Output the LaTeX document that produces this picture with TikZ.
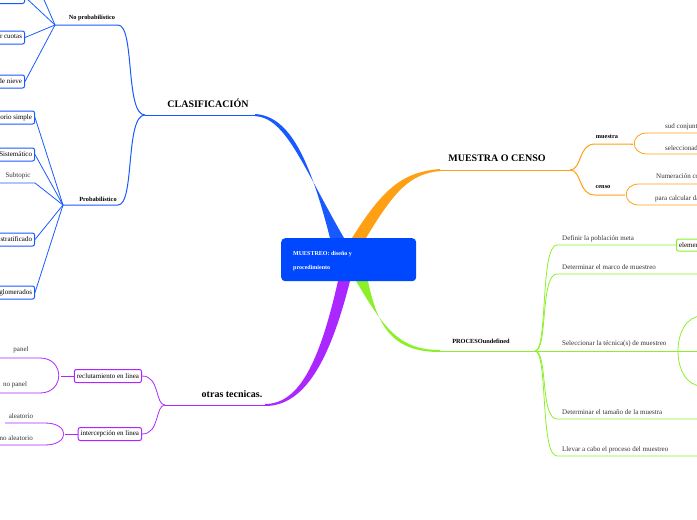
\documentclass[tikz,border=0pt]{standalone}
\usepackage{fontspec}
\setmainfont{Liberation Serif}
\begin{document}
\begin{tikzpicture}[x=1pt,y=-1pt,
  t/.style={font=\fontsize{7}{8}\selectfont, inner sep=0pt, text=black!80},
  bt/.style={font=\bfseries\fontsize{6.3}{7}\selectfont, inner sep=0pt},
  big/.style={font=\bfseries\fontsize{10}{11}\selectfont, inner sep=0pt},
  bx/.style={draw=#1, rounded corners=2pt, line width=1pt, minimum height=13pt, font=\fontsize{7}{8}\selectfont, inner sep=2.5pt},
]
\definecolor{cB}{RGB}{25,90,255}
\definecolor{cO}{RGB}{255,160,20}
\definecolor{cG}{RGB}{140,240,40}
\definecolor{cP}{RGB}{170,40,255}
\definecolor{cC}{RGB}{0,72,255}
\useasboundingbox (0,0) rectangle (697,520);
\clip (0,0) rectangle (697,520);
% ---- blue
\coordinate (bJ) at (145,115);
\coordinate (bE) at (262,115);
\fill[cB] (330,238) .. controls (310,160) and (290,116) .. (255,114) -- (255,116) .. controls (286,118) and (302,165) .. (344,238) -- cycle;
\draw[cB,line width=1pt] (bJ) -- (bE);
\node[big] (clas) at (208,103) {CLASIFICACIÓN};
\coordinate (npJ) at (55,25);
\coordinate (pJ) at (63,205);
\draw[cB,line width=1pt] (bJ) .. controls (125,115) and (135,25) .. (118,25) -- (npJ);
\draw[cB,line width=1pt] (bJ) .. controls (125,115) and (135,205) .. (118,205) -- (pJ);
\node[bt] (np) at (92,18) {No probabilístico};
\node[bt] (p) at (98,199) {Probabilístico};
\node[bx=cB,anchor=east] (b1) at (25,-3) {por conveniencia};
\node[bx=cB,anchor=east] (b2) at (25,37.5) {por cuotas};
\node[bx=cB,anchor=east] (b3) at (25,81.5) {bola de nieve};
\draw[cB,line width=0.8pt] (npJ) -- (b1.east);
\draw[cB,line width=0.8pt] (npJ) -- (42,-5);
\draw[cB,line width=0.8pt] (npJ) -- (b2.east);
\draw[cB,line width=0.8pt] (npJ) -- (b3.east);
\node[bx=cB,anchor=east] (c1) at (35,117.5) {aleatorio simple};
\node[bx=cB,anchor=east] (c2) at (35,154.5) {Sistemático};
\coordinate (c3) at (35,183);
\node[t] (st) at (18,176) {Subtopic};
\node[bx=cB,anchor=east] (c4) at (35,239.5) {Estratificado};
\node[bx=cB,anchor=east] (c5) at (35,292.5) {Conglomerados};
\draw[cB,line width=0.8pt] (0,183) -- (c3) -- (pJ);
\foreach \n in {c1,c2,c4,c5} \draw[cB,line width=0.8pt] (pJ) -- (\n.east);
% ---- orange
\coordinate (oJ) at (570,170);
\fill[cO] (352,238) .. controls (385,185) and (405,172) .. (440,169) -- (440,171) .. controls (410,174) and (395,190) .. (366,238) -- cycle;
\draw[cO,line width=1pt] (440,170) -- (oJ);
\node[big] (mc) at (497,158) {MUESTRA O CENSO};
\coordinate (mJ) at (633,144);
\coordinate (cJ) at (625,195);
\draw[cO,line width=1pt] (oJ) .. controls (582,170) and (578,144) .. (595,144) -- (mJ);
\draw[cO,line width=1pt] (oJ) .. controls (582,170) and (578,195) .. (595,195) -- (cJ);
\node[bt] (mu) at (607,137) {muestra};
\node[bt] (ce) at (603,187) {censo};
\draw[cO,line width=0.8pt] (700,133) -- (647,133) .. controls (630,133) and (630,154) .. (647,154) -- (700,154);
\draw[cO,line width=0.8pt] (mJ) -- (631,144);
\draw[cO,line width=0.8pt] (700,184) -- (639,184) .. controls (622,184) and (622,205) .. (639,205) -- (700,205);
\node[t,anchor=west] (m1) at (665,127) {sud conjunto de la población};
\node[t,anchor=west] (m2) at (665,148) {seleccionada};
\node[t,anchor=west] (c1o) at (656,177) {Numeración completa};
\node[t,anchor=west] (c2o) at (655,199) {para calcular datos};
% ---- green
\coordinate (gJ) at (535,351);
\fill[cG] (356,281) .. controls (385,330) and (400,350) .. (440,350) -- (440,352) .. controls (395,352) and (378,330) .. (368,281) -- cycle;
\draw[cG,line width=1pt] (440,351) -- (gJ);
\node[bt] (pr) at (481,341) {PROCESOundefined};
\foreach \y/\tx in {245/Definir la población meta,274/Determinar el marco de muestreo,419/Determinar el tamaño de la muestra,456/Llevar a cabo el proceso del muestreo}{
  \draw[cG,line width=0.8pt] (gJ) .. controls (548,351) and (540,\y) .. (557,\y) -- (700,\y);
  \node[t,anchor=west] at (562,\y-6.5) {\tx};
}
\draw[cG,line width=0.8pt] (gJ) -- (700,351);
\node[t,anchor=west] (g3) at (562,344) {Seleccionar la técnica(s) de muestreo};
\node[bx=cG,anchor=west,minimum height=12pt,fill=white] (el) at (676,245) {elementos};
\draw[cG,line width=0.8pt] (702,316) .. controls (670,316) and (670,386) .. (702,386);
% ---- purple
\coordinate (pJ2) at (165,405);
\fill[cP] (338,281) .. controls (320,360) and (300,404) .. (265,404) -- (265,406) .. controls (305,406) and (330,360) .. (350,281) -- cycle;
\draw[cP,line width=1pt] (pJ2) -- (265,405);
\node[big] (ot) at (232,394) {otras tecnicas.};
\node[bx=cP,anchor=east] (r) at (142,376) {reclutamiento en linea};
\node[bx=cP,anchor=east] (i) at (142,434) {intercepción en linea};
\draw[cP,line width=0.8pt] (pJ2) .. controls (155,405) and (160,376) .. (r.east);
\draw[cP,line width=0.8pt] (pJ2) .. controls (155,405) and (160,434) .. (i.east);
\draw[cP,line width=0.8pt] (r.west) -- (61,376);
\draw[cP,line width=0.8pt] (0,358) -- (40,358) .. controls (65,358) and (65,393) .. (40,393) -- (0,393);
\draw[cP,line width=0.8pt] (i.west) -- (65,434);
\draw[cP,line width=0.8pt] (5,423) -- (45,423) .. controls (70,423) and (70,445) .. (45,445) -- (0,445);
\node[t] (pa) at (21,350) {panel};
\node[t] (npa) at (15,385) {no panel};
\node[t] (al) at (21,416) {aleatorio};
\node[t,anchor=east] (nal) at (33,438) {no aleatorio};
% ---- center
\node[fill=cC, rounded corners=4pt, minimum width=135pt, minimum height=43pt, anchor=north west] (ctr) at (281,238) {};
\node[font=\bfseries\fontsize{6}{14}\selectfont, text=white, align=left, anchor=north west, inner sep=0pt] (ct) at (293,251) {MUESTREO: diseño y\\procedimiento};
\end{tikzpicture}
\end{document}
